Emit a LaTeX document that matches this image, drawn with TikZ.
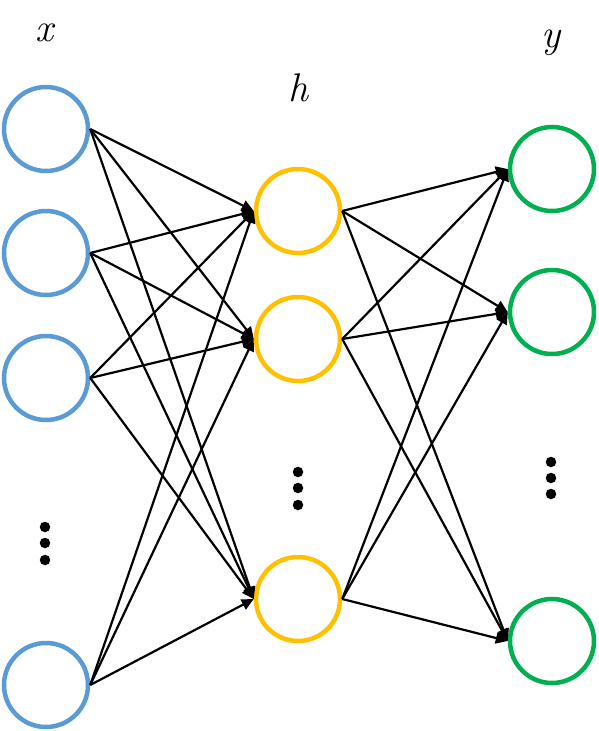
\documentclass[tikz,border=0pt]{standalone}
\usetikzlibrary{arrows.meta}
\definecolor{cin}{HTML}{5B9BD5}
\definecolor{chid}{HTML}{FFC000}
\definecolor{cout}{HTML}{00B050}
\begin{document}
\begin{tikzpicture}[x=1pt,y=-1pt,
  neuron/.style={circle,draw,line width=4.5pt,minimum size=84pt,inner sep=0pt},
  innode/.style={neuron,draw=cin},
  hidnode/.style={neuron,draw=chid},
  outnode/.style={neuron,draw=cout},
  conn/.style={line width=2.2pt,-{Triangle[length=12pt,width=11pt]}},
  dot/.style={circle,fill=black,inner sep=0pt,minimum size=10.5pt},
  lbl/.style={font=\fontsize{40}{48}\selectfont\itshape}]
\useasboundingbox (0,0) rectangle (598,731);
\node[innode] (i1) at (46,129) {};
\node[innode] (i2) at (46,253) {};
\node[innode] (i3) at (46,378) {};
\node[innode] (i4) at (46,685) {};
\node[hidnode] (h1) at (298,211) {};
\node[hidnode] (h2) at (298,339) {};
\node[hidnode] (h3) at (298,599) {};
\node[outnode] (o1) at (552,169) {};
\node[outnode] (o2) at (552,312) {};
\node[outnode] (o3) at (552,641) {};
\node[lbl] (lx) at (44,33) {x};
\node[lbl] (lh) at (298,88) {h};
\node[lbl] (ly) at (551,43) {y};
\node[dot] (di1) at (45,527) {};
\node[dot] (di2) at (45,543) {};
\node[dot] (di3) at (45,560) {};
\node[dot] (dh1) at (298,472) {};
\node[dot] (dh2) at (298,488) {};
\node[dot] (dh3) at (298,505) {};
\node[dot] (do1) at (551,462) {};
\node[dot] (do2) at (551,478) {};
\node[dot] (do3) at (551,494) {};
\foreach \a in {i1,i2,i3,i4}{\foreach \b in {h1,h2,h3}{\draw[conn] (\a.east) -- (\b.west);}}
\foreach \a in {h1,h2,h3}{\foreach \b in {o1,o2,o3}{\draw[conn] (\a.east) -- (\b.west);}}
\end{tikzpicture}
\end{document}
